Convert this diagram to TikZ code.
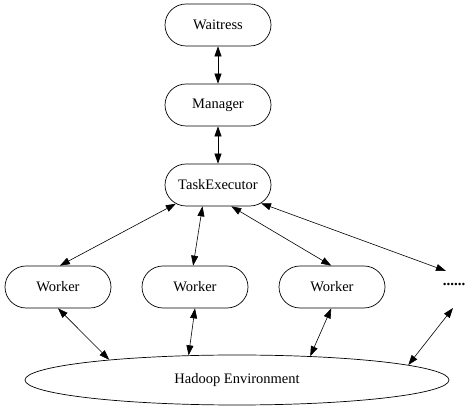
\documentclass[tikz,border=0pt]{standalone}
\usepackage{fontspec}
\setmainfont{Liberation Serif}
\usetikzlibrary{shapes.misc,shapes.geometric,arrows.meta}
\begin{document}
\begin{tikzpicture}[x=1pt,y=1pt,
  box/.style={rounded rectangle, draw, line width=0.7pt, minimum width=106pt, minimum height=42pt, inner sep=0pt, font=\fontsize{14.5}{17}\selectfont},
  env/.style={ellipse, draw, line width=0.7pt, minimum width=424pt, minimum height=50pt, inner sep=0pt, font=\fontsize{14.5}{17}\selectfont},
  link/.style={line width=0.6pt, {Triangle[length=10pt,width=7pt]}-{Triangle[length=10pt,width=7pt]}}]
\useasboundingbox (0,0) rectangle (474,409);
\node[box] (wa) at (218,384) {Waitress};
\node[box] (ma) at (218,304) {Manager};
\node[box] (te) at (218,224) {TaskExecutor};
\node[box] (w1) at (58,122) {Worker};
\node[box] (w2) at (195,122) {Worker};
\node[box] (w3) at (332,122) {Worker};
\node[font=\fontsize{15}{17}\bfseries] (dots) at (454,124) {......};
\node[env] (he) at (237,29) {Hadoop Environment};
\coordinate (dtop) at (446,138);
\coordinate (dbot) at (453,101);
\draw[link] (wa.south) -- (ma.north);
\draw[link] (ma.south) -- (te.north);
\draw[link] (te.204.5) -- (w1.85);
\draw[link] (te.234) -- (w2.95);
\draw[link] (te.302.5) -- (w3.92);
\draw[link] (te.337.8) -- (dtop);
\draw[link] (w1.270) -- (he.171.8);
\draw[link] (w2.270) -- (he.153.4);
\draw[link] (w3.268) -- (he.18.2);
\draw[link] (dbot) -- (he.5.8);
\end{tikzpicture}
\end{document}
